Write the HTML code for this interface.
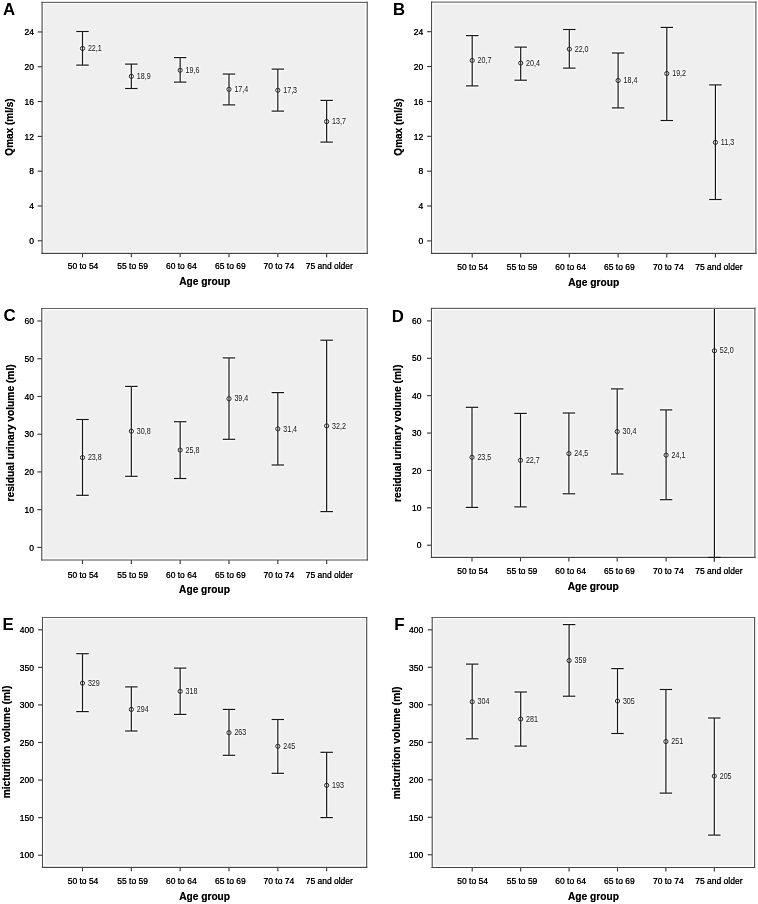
<!DOCTYPE html>
<html><head><meta charset="utf-8"><title>Figure</title>
<style>html,body{margin:0;padding:0;background:#fff;}svg{display:block;}
text{font-family:"Liberation Sans",Arial,sans-serif;}</style></head>
<body><svg width="758" height="904" viewBox="0 0 758 904">
<defs><filter id="sh" x="0" y="0" width="100%" height="100%" color-interpolation-filters="sRGB">
<feGaussianBlur in="SourceGraphic" stdDeviation="0.8" result="b"/>
<feComposite in="SourceGraphic" in2="b" operator="arithmetic" k1="0" k2="1.28" k3="-0.28" k4="0"/>
</filter></defs>
<g filter="url(#sh)">
<rect width="758" height="904" fill="#fff"/>
<rect x="42.1" y="2.3" width="325.1" height="251.05" fill="#fff"/>
<rect x="43.8" y="4" width="321.7" height="247.65" fill="#efefef"/>
<g stroke="#353535" stroke-width="1.2" fill="none">
<line x1="82.5" y1="31.5" x2="82.5" y2="65.1"/>
<line x1="76.3" y1="31.5" x2="88.7" y2="31.5" stroke-width="1.2"/>
<line x1="76.3" y1="65.1" x2="88.7" y2="65.1" stroke-width="1.2"/>
<line x1="131.33" y1="64.1" x2="131.33" y2="88.5"/>
<line x1="125.13" y1="64.1" x2="137.53" y2="64.1" stroke-width="1.2"/>
<line x1="125.13" y1="88.5" x2="137.53" y2="88.5" stroke-width="1.2"/>
<line x1="180.16" y1="57.6" x2="180.16" y2="82.1"/>
<line x1="173.96" y1="57.6" x2="186.36" y2="57.6" stroke-width="1.2"/>
<line x1="173.96" y1="82.1" x2="186.36" y2="82.1" stroke-width="1.2"/>
<line x1="228.99" y1="74.05" x2="228.99" y2="104.9"/>
<line x1="222.79" y1="74.05" x2="235.19" y2="74.05" stroke-width="1.2"/>
<line x1="222.79" y1="104.9" x2="235.19" y2="104.9" stroke-width="1.2"/>
<line x1="277.82" y1="69.1" x2="277.82" y2="111.1"/>
<line x1="271.62" y1="69.1" x2="284.02" y2="69.1" stroke-width="1.2"/>
<line x1="271.62" y1="111.1" x2="284.02" y2="111.1" stroke-width="1.2"/>
<line x1="326.65" y1="100.4" x2="326.65" y2="142.1"/>
<line x1="320.45" y1="100.4" x2="332.85" y2="100.4" stroke-width="1.2"/>
<line x1="320.45" y1="142.1" x2="332.85" y2="142.1" stroke-width="1.2"/>
</g>
<g stroke="#3a3a3a" stroke-width="1.0" fill="none">
<circle cx="82.5" cy="48.48" r="2.1"/>
<circle cx="131.33" cy="76.33" r="2.1"/>
<circle cx="180.16" cy="70.24" r="2.1"/>
<circle cx="228.99" cy="89.38" r="2.1"/>
<circle cx="277.82" cy="90.25" r="2.1"/>
<circle cx="326.65" cy="121.58" r="2.1"/>
</g>
<g font-size="8.5" fill="#3c3c3c" stroke="#3c3c3c" stroke-width="0.05">
<text transform="translate(87.9,51.08) scale(0.84,1)">22,1</text>
<text transform="translate(136.73,78.93) scale(0.84,1)">18,9</text>
<text transform="translate(185.56,72.84) scale(0.84,1)">19,6</text>
<text transform="translate(234.39,91.98) scale(0.84,1)">17,4</text>
<text transform="translate(283.22,92.85) scale(0.84,1)">17,3</text>
<text transform="translate(332.05,124.18) scale(0.84,1)">13,7</text>
</g>
<g stroke-width="1.2" stroke-linecap="square">
<line x1="42.1" y1="2.3" x2="367.2" y2="2.3" stroke="#7c7c7c"/>
<line x1="367.2" y1="2.3" x2="367.2" y2="253.35" stroke="#6a6a6a"/>
<line x1="42.1" y1="2.3" x2="42.1" y2="253.35" stroke="#666666"/>
<line x1="42.1" y1="253.35" x2="367.2" y2="253.35" stroke="#5e5e5e"/>
</g>
<g stroke="#555555" stroke-width="1.2">
<line x1="37.7" y1="240.8" x2="42.1" y2="240.8"/>
<line x1="37.7" y1="205.99" x2="42.1" y2="205.99"/>
<line x1="37.7" y1="171.18" x2="42.1" y2="171.18"/>
<line x1="37.7" y1="136.38" x2="42.1" y2="136.38"/>
<line x1="37.7" y1="101.57" x2="42.1" y2="101.57"/>
<line x1="37.7" y1="66.76" x2="42.1" y2="66.76"/>
<line x1="37.7" y1="31.95" x2="42.1" y2="31.95"/>
<line x1="82.5" y1="253.35" x2="82.5" y2="257.35"/>
<line x1="131.33" y1="253.35" x2="131.33" y2="257.35"/>
<line x1="180.16" y1="253.35" x2="180.16" y2="257.35"/>
<line x1="228.99" y1="253.35" x2="228.99" y2="257.35"/>
<line x1="277.82" y1="253.35" x2="277.82" y2="257.35"/>
<line x1="326.65" y1="253.35" x2="326.65" y2="257.35"/>
</g>
<g font-size="8.9" fill="#000000" stroke="#000000" stroke-width="0.25" text-anchor="end">
<text transform="translate(34,244) scale(0.955,1)">0</text>
<text transform="translate(34,209.19) scale(0.955,1)">4</text>
<text transform="translate(34,174.38) scale(0.955,1)">8</text>
<text transform="translate(34,139.57) scale(0.955,1)">12</text>
<text transform="translate(34,104.77) scale(0.955,1)">16</text>
<text transform="translate(34,69.96) scale(0.955,1)">20</text>
<text transform="translate(34,35.15) scale(0.955,1)">24</text>
</g>
<g font-size="8.9" fill="#000000" stroke="#000000" stroke-width="0.25" text-anchor="middle">
<text transform="translate(83,268.8) scale(0.955,1)">50 to 54</text>
<text transform="translate(132.6,268.8) scale(0.955,1)">55 to 59</text>
<text transform="translate(181.3,268.8) scale(0.955,1)">60 to 64</text>
<text transform="translate(230.4,268.8) scale(0.955,1)">65 to 69</text>
<text transform="translate(278.9,268.8) scale(0.955,1)">70 to 74</text>
<text transform="translate(329.3,268.8) scale(0.955,1)">75 and older</text>
</g>
<text x="204.65" y="284.6" font-size="10.2" font-weight="bold" fill="#000000" stroke="#000000" stroke-width="0.2" text-anchor="middle">Age group</text>
<text transform="translate(12.6,127) rotate(-90)" font-size="10.0" font-weight="bold" fill="#000000" stroke="#000000" stroke-width="0.2" text-anchor="middle">Qmax (ml/s)</text>
<text transform="translate(3.1,14.9) scale(1.05,1)" font-size="16.0" font-weight="bold" fill="#000">A</text>
<rect x="431.55" y="2.1" width="324.35" height="251.3" fill="#fff"/>
<rect x="433.25" y="3.8" width="320.95" height="247.9" fill="#efefef"/>
<g stroke="#353535" stroke-width="1.2" fill="none">
<line x1="472.2" y1="35.6" x2="472.2" y2="85.9"/>
<line x1="466" y1="35.6" x2="478.4" y2="35.6" stroke-width="1.2"/>
<line x1="466" y1="85.9" x2="478.4" y2="85.9" stroke-width="1.2"/>
<line x1="520.7" y1="47.1" x2="520.7" y2="80.2"/>
<line x1="514.5" y1="47.1" x2="526.9" y2="47.1" stroke-width="1.2"/>
<line x1="514.5" y1="80.2" x2="526.9" y2="80.2" stroke-width="1.2"/>
<line x1="569.3" y1="29.5" x2="569.3" y2="68.1"/>
<line x1="563.1" y1="29.5" x2="575.5" y2="29.5" stroke-width="1.2"/>
<line x1="563.1" y1="68.1" x2="575.5" y2="68.1" stroke-width="1.2"/>
<line x1="618.1" y1="53" x2="618.1" y2="107.9"/>
<line x1="611.9" y1="53" x2="624.3" y2="53" stroke-width="1.2"/>
<line x1="611.9" y1="107.9" x2="624.3" y2="107.9" stroke-width="1.2"/>
<line x1="666.8" y1="27.4" x2="666.8" y2="120.5"/>
<line x1="660.6" y1="27.4" x2="673" y2="27.4" stroke-width="1.2"/>
<line x1="660.6" y1="120.5" x2="673" y2="120.5" stroke-width="1.2"/>
<line x1="715.4" y1="84.9" x2="715.4" y2="199.5"/>
<line x1="709.2" y1="84.9" x2="721.6" y2="84.9" stroke-width="1.2"/>
<line x1="709.2" y1="199.5" x2="721.6" y2="199.5" stroke-width="1.2"/>
</g>
<g stroke="#3a3a3a" stroke-width="1.0" fill="none">
<circle cx="472.2" cy="60.46" r="2.1"/>
<circle cx="520.7" cy="63.08" r="2.1"/>
<circle cx="569.3" cy="49.13" r="2.1"/>
<circle cx="618.1" cy="80.51" r="2.1"/>
<circle cx="666.8" cy="73.54" r="2.1"/>
<circle cx="715.4" cy="142.4" r="2.1"/>
</g>
<g font-size="8.5" fill="#3c3c3c" stroke="#3c3c3c" stroke-width="0.05">
<text transform="translate(477.6,63.06) scale(0.84,1)">20,7</text>
<text transform="translate(526.1,65.68) scale(0.84,1)">20,4</text>
<text transform="translate(574.7,51.73) scale(0.84,1)">22,0</text>
<text transform="translate(623.5,83.11) scale(0.84,1)">18,4</text>
<text transform="translate(672.2,76.14) scale(0.84,1)">19,2</text>
<text transform="translate(720.8,145) scale(0.84,1)">11,3</text>
</g>
<g stroke-width="1.2" stroke-linecap="square">
<line x1="431.55" y1="2.1" x2="755.9" y2="2.1" stroke="#7c7c7c"/>
<line x1="755.9" y1="2.1" x2="755.9" y2="253.4" stroke="#6a6a6a"/>
<line x1="431.55" y1="2.1" x2="431.55" y2="253.4" stroke="#666666"/>
<line x1="431.55" y1="253.4" x2="755.9" y2="253.4" stroke="#5e5e5e"/>
</g>
<g stroke="#555555" stroke-width="1.2">
<line x1="427.15" y1="240.9" x2="431.55" y2="240.9"/>
<line x1="427.15" y1="206.03" x2="431.55" y2="206.03"/>
<line x1="427.15" y1="171.17" x2="431.55" y2="171.17"/>
<line x1="427.15" y1="136.3" x2="431.55" y2="136.3"/>
<line x1="427.15" y1="101.43" x2="431.55" y2="101.43"/>
<line x1="427.15" y1="66.57" x2="431.55" y2="66.57"/>
<line x1="427.15" y1="31.7" x2="431.55" y2="31.7"/>
<line x1="472.2" y1="253.4" x2="472.2" y2="257.4"/>
<line x1="520.7" y1="253.4" x2="520.7" y2="257.4"/>
<line x1="569.3" y1="253.4" x2="569.3" y2="257.4"/>
<line x1="618.1" y1="253.4" x2="618.1" y2="257.4"/>
<line x1="666.8" y1="253.4" x2="666.8" y2="257.4"/>
<line x1="715.4" y1="253.4" x2="715.4" y2="257.4"/>
</g>
<g font-size="8.9" fill="#000000" stroke="#000000" stroke-width="0.25" text-anchor="end">
<text transform="translate(423.2,244.1) scale(0.955,1)">0</text>
<text transform="translate(423.2,209.23) scale(0.955,1)">4</text>
<text transform="translate(423.2,174.37) scale(0.955,1)">8</text>
<text transform="translate(423.2,139.5) scale(0.955,1)">12</text>
<text transform="translate(423.2,104.63) scale(0.955,1)">16</text>
<text transform="translate(423.2,69.77) scale(0.955,1)">20</text>
<text transform="translate(423.2,34.9) scale(0.955,1)">24</text>
</g>
<g font-size="8.9" fill="#000000" stroke="#000000" stroke-width="0.25" text-anchor="middle">
<text transform="translate(472.6,270.1) scale(0.955,1)">50 to 54</text>
<text transform="translate(522,270.1) scale(0.955,1)">55 to 59</text>
<text transform="translate(570.6,270.1) scale(0.955,1)">60 to 64</text>
<text transform="translate(619.4,270.1) scale(0.955,1)">65 to 69</text>
<text transform="translate(668.3,270.1) scale(0.955,1)">70 to 74</text>
<text transform="translate(718.9,270.1) scale(0.955,1)">75 and older</text>
</g>
<text x="593.73" y="286.2" font-size="10.2" font-weight="bold" fill="#000000" stroke="#000000" stroke-width="0.2" text-anchor="middle">Age group</text>
<text transform="translate(402.3,127) rotate(-90)" font-size="10.0" font-weight="bold" fill="#000000" stroke="#000000" stroke-width="0.2" text-anchor="middle">Qmax (ml/s)</text>
<text transform="translate(393,14.8) scale(1.05,1)" font-size="16.0" font-weight="bold" fill="#000">B</text>
<rect x="41.8" y="308.5" width="325.45" height="251.5" fill="#fff"/>
<rect x="43.5" y="310.2" width="322.05" height="248.1" fill="#efefef"/>
<g stroke="#353535" stroke-width="1.2" fill="none">
<line x1="82.5" y1="419.5" x2="82.5" y2="495.3"/>
<line x1="76.3" y1="419.5" x2="88.7" y2="419.5" stroke-width="1.2"/>
<line x1="76.3" y1="495.3" x2="88.7" y2="495.3" stroke-width="1.2"/>
<line x1="131.33" y1="386.4" x2="131.33" y2="476.3"/>
<line x1="125.13" y1="386.4" x2="137.53" y2="386.4" stroke-width="1.2"/>
<line x1="125.13" y1="476.3" x2="137.53" y2="476.3" stroke-width="1.2"/>
<line x1="180.16" y1="421.7" x2="180.16" y2="478.5"/>
<line x1="173.96" y1="421.7" x2="186.36" y2="421.7" stroke-width="1.2"/>
<line x1="173.96" y1="478.5" x2="186.36" y2="478.5" stroke-width="1.2"/>
<line x1="228.99" y1="357.9" x2="228.99" y2="439.3"/>
<line x1="222.79" y1="357.9" x2="235.19" y2="357.9" stroke-width="1.2"/>
<line x1="222.79" y1="439.3" x2="235.19" y2="439.3" stroke-width="1.2"/>
<line x1="277.82" y1="392.6" x2="277.82" y2="465"/>
<line x1="271.62" y1="392.6" x2="284.02" y2="392.6" stroke-width="1.2"/>
<line x1="271.62" y1="465" x2="284.02" y2="465" stroke-width="1.2"/>
<line x1="326.65" y1="340.2" x2="326.65" y2="511.6"/>
<line x1="320.45" y1="340.2" x2="332.85" y2="340.2" stroke-width="1.2"/>
<line x1="320.45" y1="511.6" x2="332.85" y2="511.6" stroke-width="1.2"/>
</g>
<g stroke="#3a3a3a" stroke-width="1.0" fill="none">
<circle cx="82.5" cy="457.59" r="2.1"/>
<circle cx="131.33" cy="431.18" r="2.1"/>
<circle cx="180.16" cy="450.05" r="2.1"/>
<circle cx="228.99" cy="398.73" r="2.1"/>
<circle cx="277.82" cy="428.92" r="2.1"/>
<circle cx="326.65" cy="425.9" r="2.1"/>
</g>
<g font-size="8.5" fill="#3c3c3c" stroke="#3c3c3c" stroke-width="0.05">
<text transform="translate(87.9,460.19) scale(0.84,1)">23,8</text>
<text transform="translate(136.73,433.78) scale(0.84,1)">30,8</text>
<text transform="translate(185.56,452.65) scale(0.84,1)">25,8</text>
<text transform="translate(234.39,401.33) scale(0.84,1)">39,4</text>
<text transform="translate(283.22,431.52) scale(0.84,1)">31,4</text>
<text transform="translate(332.05,428.5) scale(0.84,1)">32,2</text>
</g>
<g stroke-width="1.2" stroke-linecap="square">
<line x1="41.8" y1="308.5" x2="367.25" y2="308.5" stroke="#7c7c7c"/>
<line x1="367.25" y1="308.5" x2="367.25" y2="560" stroke="#6a6a6a"/>
<line x1="41.8" y1="308.5" x2="41.8" y2="560" stroke="#666666"/>
<line x1="41.8" y1="560" x2="367.25" y2="560" stroke="#5e5e5e"/>
</g>
<g stroke="#555555" stroke-width="1.2">
<line x1="37.4" y1="547.4" x2="41.8" y2="547.4"/>
<line x1="37.4" y1="509.67" x2="41.8" y2="509.67"/>
<line x1="37.4" y1="471.93" x2="41.8" y2="471.93"/>
<line x1="37.4" y1="434.2" x2="41.8" y2="434.2"/>
<line x1="37.4" y1="396.47" x2="41.8" y2="396.47"/>
<line x1="37.4" y1="358.73" x2="41.8" y2="358.73"/>
<line x1="37.4" y1="321" x2="41.8" y2="321"/>
<line x1="82.5" y1="560" x2="82.5" y2="564"/>
<line x1="131.33" y1="560" x2="131.33" y2="564"/>
<line x1="180.16" y1="560" x2="180.16" y2="564"/>
<line x1="228.99" y1="560" x2="228.99" y2="564"/>
<line x1="277.82" y1="560" x2="277.82" y2="564"/>
<line x1="326.65" y1="560" x2="326.65" y2="564"/>
</g>
<g font-size="8.9" fill="#000000" stroke="#000000" stroke-width="0.25" text-anchor="end">
<text transform="translate(34,550.6) scale(0.955,1)">0</text>
<text transform="translate(34,512.87) scale(0.955,1)">10</text>
<text transform="translate(34,475.13) scale(0.955,1)">20</text>
<text transform="translate(34,437.4) scale(0.955,1)">30</text>
<text transform="translate(34,399.67) scale(0.955,1)">40</text>
<text transform="translate(34,361.93) scale(0.955,1)">50</text>
<text transform="translate(34,324.2) scale(0.955,1)">60</text>
</g>
<g font-size="8.9" fill="#000000" stroke="#000000" stroke-width="0.25" text-anchor="middle">
<text transform="translate(83,577.5) scale(0.955,1)">50 to 54</text>
<text transform="translate(132.6,577.5) scale(0.955,1)">55 to 59</text>
<text transform="translate(181.3,577.5) scale(0.955,1)">60 to 64</text>
<text transform="translate(230.4,577.5) scale(0.955,1)">65 to 69</text>
<text transform="translate(278.9,577.5) scale(0.955,1)">70 to 74</text>
<text transform="translate(329.3,577.5) scale(0.955,1)">75 and older</text>
</g>
<text x="204.53" y="593" font-size="10.2" font-weight="bold" fill="#000000" stroke="#000000" stroke-width="0.2" text-anchor="middle">Age group</text>
<text transform="translate(14,432.9) rotate(-90)" font-size="10.25" font-weight="bold" fill="#000000" stroke="#000000" stroke-width="0.2" text-anchor="middle">residual urinary volume (ml)</text>
<text transform="translate(3.4,320.6) scale(1.05,1)" font-size="16.0" font-weight="bold" fill="#000">C</text>
<rect x="431.45" y="308.45" width="323.45" height="248.95" fill="#fff"/>
<rect x="433.15" y="310.15" width="320.05" height="245.55" fill="#efefef"/>
<g stroke="#353535" stroke-width="1.2" fill="none">
<line x1="472" y1="407.3" x2="472" y2="507.4"/>
<line x1="465.8" y1="407.3" x2="478.2" y2="407.3" stroke-width="1.2"/>
<line x1="465.8" y1="507.4" x2="478.2" y2="507.4" stroke-width="1.2"/>
<line x1="520.5" y1="413.4" x2="520.5" y2="506.9"/>
<line x1="514.3" y1="413.4" x2="526.7" y2="413.4" stroke-width="1.2"/>
<line x1="514.3" y1="506.9" x2="526.7" y2="506.9" stroke-width="1.2"/>
<line x1="568.9" y1="413" x2="568.9" y2="493.8"/>
<line x1="562.7" y1="413" x2="575.1" y2="413" stroke-width="1.2"/>
<line x1="562.7" y1="493.8" x2="575.1" y2="493.8" stroke-width="1.2"/>
<line x1="617.2" y1="388.9" x2="617.2" y2="474"/>
<line x1="611" y1="388.9" x2="623.4" y2="388.9" stroke-width="1.2"/>
<line x1="611" y1="474" x2="623.4" y2="474" stroke-width="1.2"/>
<line x1="666.1" y1="409.9" x2="666.1" y2="499.7"/>
<line x1="659.9" y1="409.9" x2="672.3" y2="409.9" stroke-width="1.2"/>
<line x1="659.9" y1="499.7" x2="672.3" y2="499.7" stroke-width="1.2"/>
<line x1="714.4" y1="308.45" x2="714.4" y2="561.4"/>
</g>
<g stroke="#3a3a3a" stroke-width="1.0" fill="none">
<circle cx="472" cy="457.35" r="2.1"/>
<circle cx="520.5" cy="460.34" r="2.1"/>
<circle cx="568.9" cy="453.61" r="2.1"/>
<circle cx="617.2" cy="431.55" r="2.1"/>
<circle cx="666.1" cy="455.11" r="2.1"/>
<circle cx="714.4" cy="350.81" r="2.1"/>
</g>
<g font-size="8.5" fill="#3c3c3c" stroke="#3c3c3c" stroke-width="0.05">
<text transform="translate(477.4,459.95) scale(0.84,1)">23,5</text>
<text transform="translate(525.9,462.94) scale(0.84,1)">22,7</text>
<text transform="translate(574.3,456.21) scale(0.84,1)">24,5</text>
<text transform="translate(622.6,434.15) scale(0.84,1)">30,4</text>
<text transform="translate(671.5,457.71) scale(0.84,1)">24,1</text>
<text transform="translate(719.8,353.41) scale(0.84,1)">52,0</text>
</g>
<g stroke-width="1.2" stroke-linecap="square">
<line x1="431.45" y1="308.45" x2="754.9" y2="308.45" stroke="#7c7c7c"/>
<line x1="754.9" y1="308.45" x2="754.9" y2="557.4" stroke="#6a6a6a"/>
<line x1="431.45" y1="308.45" x2="431.45" y2="557.4" stroke="#666666"/>
<line x1="431.45" y1="557.4" x2="754.9" y2="557.4" stroke="#5e5e5e"/>
</g>
<line x1="708.2" y1="557.4" x2="720.6" y2="557.4" stroke="#353535" stroke-width="1.2"/>
<g stroke="#555555" stroke-width="1.2">
<line x1="427.05" y1="545.2" x2="431.45" y2="545.2"/>
<line x1="427.05" y1="507.82" x2="431.45" y2="507.82"/>
<line x1="427.05" y1="470.43" x2="431.45" y2="470.43"/>
<line x1="427.05" y1="433.05" x2="431.45" y2="433.05"/>
<line x1="427.05" y1="395.67" x2="431.45" y2="395.67"/>
<line x1="427.05" y1="358.28" x2="431.45" y2="358.28"/>
<line x1="427.05" y1="320.9" x2="431.45" y2="320.9"/>
<line x1="472" y1="557.4" x2="472" y2="561.4"/>
<line x1="520.5" y1="557.4" x2="520.5" y2="561.4"/>
<line x1="568.9" y1="557.4" x2="568.9" y2="561.4"/>
<line x1="617.2" y1="557.4" x2="617.2" y2="561.4"/>
<line x1="666.1" y1="557.4" x2="666.1" y2="561.4"/>
<line x1="714.4" y1="557.4" x2="714.4" y2="561.4"/>
</g>
<g font-size="8.9" fill="#000000" stroke="#000000" stroke-width="0.25" text-anchor="end">
<text transform="translate(421.5,548.4) scale(0.955,1)">0</text>
<text transform="translate(421.5,511.02) scale(0.955,1)">10</text>
<text transform="translate(421.5,473.63) scale(0.955,1)">20</text>
<text transform="translate(421.5,436.25) scale(0.955,1)">30</text>
<text transform="translate(421.5,398.87) scale(0.955,1)">40</text>
<text transform="translate(421.5,361.48) scale(0.955,1)">50</text>
<text transform="translate(421.5,324.1) scale(0.955,1)">60</text>
</g>
<g font-size="8.9" fill="#000000" stroke="#000000" stroke-width="0.25" text-anchor="middle">
<text transform="translate(472.6,573.8) scale(0.955,1)">50 to 54</text>
<text transform="translate(522,573.8) scale(0.955,1)">55 to 59</text>
<text transform="translate(570.6,573.8) scale(0.955,1)">60 to 64</text>
<text transform="translate(619.4,573.8) scale(0.955,1)">65 to 69</text>
<text transform="translate(668.3,573.8) scale(0.955,1)">70 to 74</text>
<text transform="translate(718.9,573.8) scale(0.955,1)">75 and older</text>
</g>
<text x="593.17" y="589.6" font-size="10.2" font-weight="bold" fill="#000000" stroke="#000000" stroke-width="0.2" text-anchor="middle">Age group</text>
<text transform="translate(401.2,433.3) rotate(-90)" font-size="10.25" font-weight="bold" fill="#000000" stroke="#000000" stroke-width="0.2" text-anchor="middle">residual urinary volume (ml)</text>
<text transform="translate(391.8,321.9) scale(1.05,1)" font-size="16.0" font-weight="bold" fill="#000">D</text>
<rect x="42.5" y="617.5" width="324.2" height="249.8" fill="#fff"/>
<rect x="44.2" y="619.2" width="320.8" height="246.4" fill="#efefef"/>
<g stroke="#353535" stroke-width="1.2" fill="none">
<line x1="82.5" y1="653.7" x2="82.5" y2="711.6"/>
<line x1="76.3" y1="653.7" x2="88.7" y2="653.7" stroke-width="1.2"/>
<line x1="76.3" y1="711.6" x2="88.7" y2="711.6" stroke-width="1.2"/>
<line x1="131.33" y1="686.9" x2="131.33" y2="731"/>
<line x1="125.13" y1="686.9" x2="137.53" y2="686.9" stroke-width="1.2"/>
<line x1="125.13" y1="731" x2="137.53" y2="731" stroke-width="1.2"/>
<line x1="180.16" y1="668.1" x2="180.16" y2="714.4"/>
<line x1="173.96" y1="668.1" x2="186.36" y2="668.1" stroke-width="1.2"/>
<line x1="173.96" y1="714.4" x2="186.36" y2="714.4" stroke-width="1.2"/>
<line x1="228.99" y1="709.4" x2="228.99" y2="755.3"/>
<line x1="222.79" y1="709.4" x2="235.19" y2="709.4" stroke-width="1.2"/>
<line x1="222.79" y1="755.3" x2="235.19" y2="755.3" stroke-width="1.2"/>
<line x1="277.82" y1="719.5" x2="277.82" y2="773.3"/>
<line x1="271.62" y1="719.5" x2="284.02" y2="719.5" stroke-width="1.2"/>
<line x1="271.62" y1="773.3" x2="284.02" y2="773.3" stroke-width="1.2"/>
<line x1="326.65" y1="752.3" x2="326.65" y2="817.6"/>
<line x1="320.45" y1="752.3" x2="332.85" y2="752.3" stroke-width="1.2"/>
<line x1="320.45" y1="817.6" x2="332.85" y2="817.6" stroke-width="1.2"/>
</g>
<g stroke="#3a3a3a" stroke-width="1.0" fill="none">
<circle cx="82.5" cy="683.14" r="2.1"/>
<circle cx="131.33" cy="709.44" r="2.1"/>
<circle cx="180.16" cy="691.41" r="2.1"/>
<circle cx="228.99" cy="732.73" r="2.1"/>
<circle cx="277.82" cy="746.26" r="2.1"/>
<circle cx="326.65" cy="785.33" r="2.1"/>
</g>
<g font-size="8.5" fill="#3c3c3c" stroke="#3c3c3c" stroke-width="0.05">
<text transform="translate(87.9,685.74) scale(0.84,1)">329</text>
<text transform="translate(136.73,712.04) scale(0.84,1)">294</text>
<text transform="translate(185.56,694.01) scale(0.84,1)">318</text>
<text transform="translate(234.39,735.33) scale(0.84,1)">263</text>
<text transform="translate(283.22,748.86) scale(0.84,1)">245</text>
<text transform="translate(332.05,787.93) scale(0.84,1)">193</text>
</g>
<g stroke-width="1.2" stroke-linecap="square">
<line x1="42.5" y1="617.5" x2="366.7" y2="617.5" stroke="#7c7c7c"/>
<line x1="366.7" y1="617.5" x2="366.7" y2="867.3" stroke="#6a6a6a"/>
<line x1="42.5" y1="617.5" x2="42.5" y2="867.3" stroke="#666666"/>
<line x1="42.5" y1="867.3" x2="366.7" y2="867.3" stroke="#5e5e5e"/>
</g>
<g stroke="#555555" stroke-width="1.2">
<line x1="38.1" y1="855.2" x2="42.5" y2="855.2"/>
<line x1="38.1" y1="817.63" x2="42.5" y2="817.63"/>
<line x1="38.1" y1="780.07" x2="42.5" y2="780.07"/>
<line x1="38.1" y1="742.5" x2="42.5" y2="742.5"/>
<line x1="38.1" y1="704.93" x2="42.5" y2="704.93"/>
<line x1="38.1" y1="667.37" x2="42.5" y2="667.37"/>
<line x1="38.1" y1="629.8" x2="42.5" y2="629.8"/>
<line x1="82.5" y1="867.3" x2="82.5" y2="871.3"/>
<line x1="131.33" y1="867.3" x2="131.33" y2="871.3"/>
<line x1="180.16" y1="867.3" x2="180.16" y2="871.3"/>
<line x1="228.99" y1="867.3" x2="228.99" y2="871.3"/>
<line x1="277.82" y1="867.3" x2="277.82" y2="871.3"/>
<line x1="326.65" y1="867.3" x2="326.65" y2="871.3"/>
</g>
<g font-size="8.9" fill="#000000" stroke="#000000" stroke-width="0.25" text-anchor="end">
<text transform="translate(33.9,858.4) scale(0.955,1)">100</text>
<text transform="translate(33.9,820.83) scale(0.955,1)">150</text>
<text transform="translate(33.9,783.27) scale(0.955,1)">200</text>
<text transform="translate(33.9,745.7) scale(0.955,1)">250</text>
<text transform="translate(33.9,708.13) scale(0.955,1)">300</text>
<text transform="translate(33.9,670.57) scale(0.955,1)">350</text>
<text transform="translate(33.9,633) scale(0.955,1)">400</text>
</g>
<g font-size="8.9" fill="#000000" stroke="#000000" stroke-width="0.25" text-anchor="middle">
<text transform="translate(83,884.1) scale(0.955,1)">50 to 54</text>
<text transform="translate(132.6,884.1) scale(0.955,1)">55 to 59</text>
<text transform="translate(181.3,884.1) scale(0.955,1)">60 to 64</text>
<text transform="translate(230.4,884.1) scale(0.955,1)">65 to 69</text>
<text transform="translate(278.9,884.1) scale(0.955,1)">70 to 74</text>
<text transform="translate(329.3,884.1) scale(0.955,1)">75 and older</text>
</g>
<text x="204.6" y="899.6" font-size="10.2" font-weight="bold" fill="#000000" stroke="#000000" stroke-width="0.2" text-anchor="middle">Age group</text>
<text transform="translate(10.3,742) rotate(-90)" font-size="10.2" font-weight="bold" fill="#000000" stroke="#000000" stroke-width="0.2" text-anchor="middle">micturition volume (ml)</text>
<text transform="translate(2.6,629.5) scale(1.05,1)" font-size="16.0" font-weight="bold" fill="#000">E</text>
<rect x="432.2" y="617.5" width="322.4" height="250" fill="#fff"/>
<rect x="433.9" y="619.2" width="319" height="246.6" fill="#efefef"/>
<g stroke="#353535" stroke-width="1.2" fill="none">
<line x1="472.2" y1="664.1" x2="472.2" y2="738.8"/>
<line x1="466" y1="664.1" x2="478.4" y2="664.1" stroke-width="1.2"/>
<line x1="466" y1="738.8" x2="478.4" y2="738.8" stroke-width="1.2"/>
<line x1="520.7" y1="692" x2="520.7" y2="746.1"/>
<line x1="514.5" y1="692" x2="526.9" y2="692" stroke-width="1.2"/>
<line x1="514.5" y1="746.1" x2="526.9" y2="746.1" stroke-width="1.2"/>
<line x1="569.1" y1="624.6" x2="569.1" y2="696.2"/>
<line x1="562.9" y1="624.6" x2="575.3" y2="624.6" stroke-width="1.2"/>
<line x1="562.9" y1="696.2" x2="575.3" y2="696.2" stroke-width="1.2"/>
<line x1="617.5" y1="668.6" x2="617.5" y2="733.5"/>
<line x1="611.3" y1="668.6" x2="623.7" y2="668.6" stroke-width="1.2"/>
<line x1="611.3" y1="733.5" x2="623.7" y2="733.5" stroke-width="1.2"/>
<line x1="665.9" y1="689.5" x2="665.9" y2="793.1"/>
<line x1="659.7" y1="689.5" x2="672.1" y2="689.5" stroke-width="1.2"/>
<line x1="659.7" y1="793.1" x2="672.1" y2="793.1" stroke-width="1.2"/>
<line x1="714.3" y1="718" x2="714.3" y2="835.1"/>
<line x1="708.1" y1="718" x2="720.5" y2="718" stroke-width="1.2"/>
<line x1="708.1" y1="835.1" x2="720.5" y2="835.1" stroke-width="1.2"/>
</g>
<g stroke="#3a3a3a" stroke-width="1.0" fill="none">
<circle cx="472.2" cy="701.8" r="2.1"/>
<circle cx="520.7" cy="719.05" r="2.1"/>
<circle cx="569.1" cy="660.55" r="2.1"/>
<circle cx="617.5" cy="701.05" r="2.1"/>
<circle cx="665.9" cy="741.55" r="2.1"/>
<circle cx="714.3" cy="776.05" r="2.1"/>
</g>
<g font-size="8.5" fill="#3c3c3c" stroke="#3c3c3c" stroke-width="0.05">
<text transform="translate(477.6,704.4) scale(0.84,1)">304</text>
<text transform="translate(526.1,721.65) scale(0.84,1)">281</text>
<text transform="translate(574.5,663.15) scale(0.84,1)">359</text>
<text transform="translate(622.9,703.65) scale(0.84,1)">305</text>
<text transform="translate(671.3,744.15) scale(0.84,1)">251</text>
<text transform="translate(719.7,778.65) scale(0.84,1)">205</text>
</g>
<g stroke-width="1.2" stroke-linecap="square">
<line x1="432.2" y1="617.5" x2="754.6" y2="617.5" stroke="#7c7c7c"/>
<line x1="754.6" y1="617.5" x2="754.6" y2="867.5" stroke="#6a6a6a"/>
<line x1="432.2" y1="617.5" x2="432.2" y2="867.5" stroke="#666666"/>
<line x1="432.2" y1="867.5" x2="754.6" y2="867.5" stroke="#5e5e5e"/>
</g>
<g stroke="#555555" stroke-width="1.2">
<line x1="427.8" y1="854.8" x2="432.2" y2="854.8"/>
<line x1="427.8" y1="817.3" x2="432.2" y2="817.3"/>
<line x1="427.8" y1="779.8" x2="432.2" y2="779.8"/>
<line x1="427.8" y1="742.3" x2="432.2" y2="742.3"/>
<line x1="427.8" y1="704.8" x2="432.2" y2="704.8"/>
<line x1="427.8" y1="667.3" x2="432.2" y2="667.3"/>
<line x1="427.8" y1="629.8" x2="432.2" y2="629.8"/>
<line x1="472.2" y1="867.5" x2="472.2" y2="871.5"/>
<line x1="520.7" y1="867.5" x2="520.7" y2="871.5"/>
<line x1="569.1" y1="867.5" x2="569.1" y2="871.5"/>
<line x1="617.5" y1="867.5" x2="617.5" y2="871.5"/>
<line x1="665.9" y1="867.5" x2="665.9" y2="871.5"/>
<line x1="714.3" y1="867.5" x2="714.3" y2="871.5"/>
</g>
<g font-size="8.9" fill="#000000" stroke="#000000" stroke-width="0.25" text-anchor="end">
<text transform="translate(423.1,858) scale(0.955,1)">100</text>
<text transform="translate(423.1,820.5) scale(0.955,1)">150</text>
<text transform="translate(423.1,783) scale(0.955,1)">200</text>
<text transform="translate(423.1,745.5) scale(0.955,1)">250</text>
<text transform="translate(423.1,708) scale(0.955,1)">300</text>
<text transform="translate(423.1,670.5) scale(0.955,1)">350</text>
<text transform="translate(423.1,633) scale(0.955,1)">400</text>
</g>
<g font-size="8.9" fill="#000000" stroke="#000000" stroke-width="0.25" text-anchor="middle">
<text transform="translate(472.6,884.1) scale(0.955,1)">50 to 54</text>
<text transform="translate(522,884.1) scale(0.955,1)">55 to 59</text>
<text transform="translate(570.6,884.1) scale(0.955,1)">60 to 64</text>
<text transform="translate(619.4,884.1) scale(0.955,1)">65 to 69</text>
<text transform="translate(668.3,884.1) scale(0.955,1)">70 to 74</text>
<text transform="translate(718.9,884.1) scale(0.955,1)">75 and older</text>
</g>
<text x="593.4" y="899.6" font-size="10.2" font-weight="bold" fill="#000000" stroke="#000000" stroke-width="0.2" text-anchor="middle">Age group</text>
<text transform="translate(399.6,742.9) rotate(-90)" font-size="10.2" font-weight="bold" fill="#000000" stroke="#000000" stroke-width="0.2" text-anchor="middle">micturition volume (ml)</text>
<text transform="translate(394.3,629.5) scale(1.05,1)" font-size="16.0" font-weight="bold" fill="#000">F</text>
</g>
</svg></body></html>
